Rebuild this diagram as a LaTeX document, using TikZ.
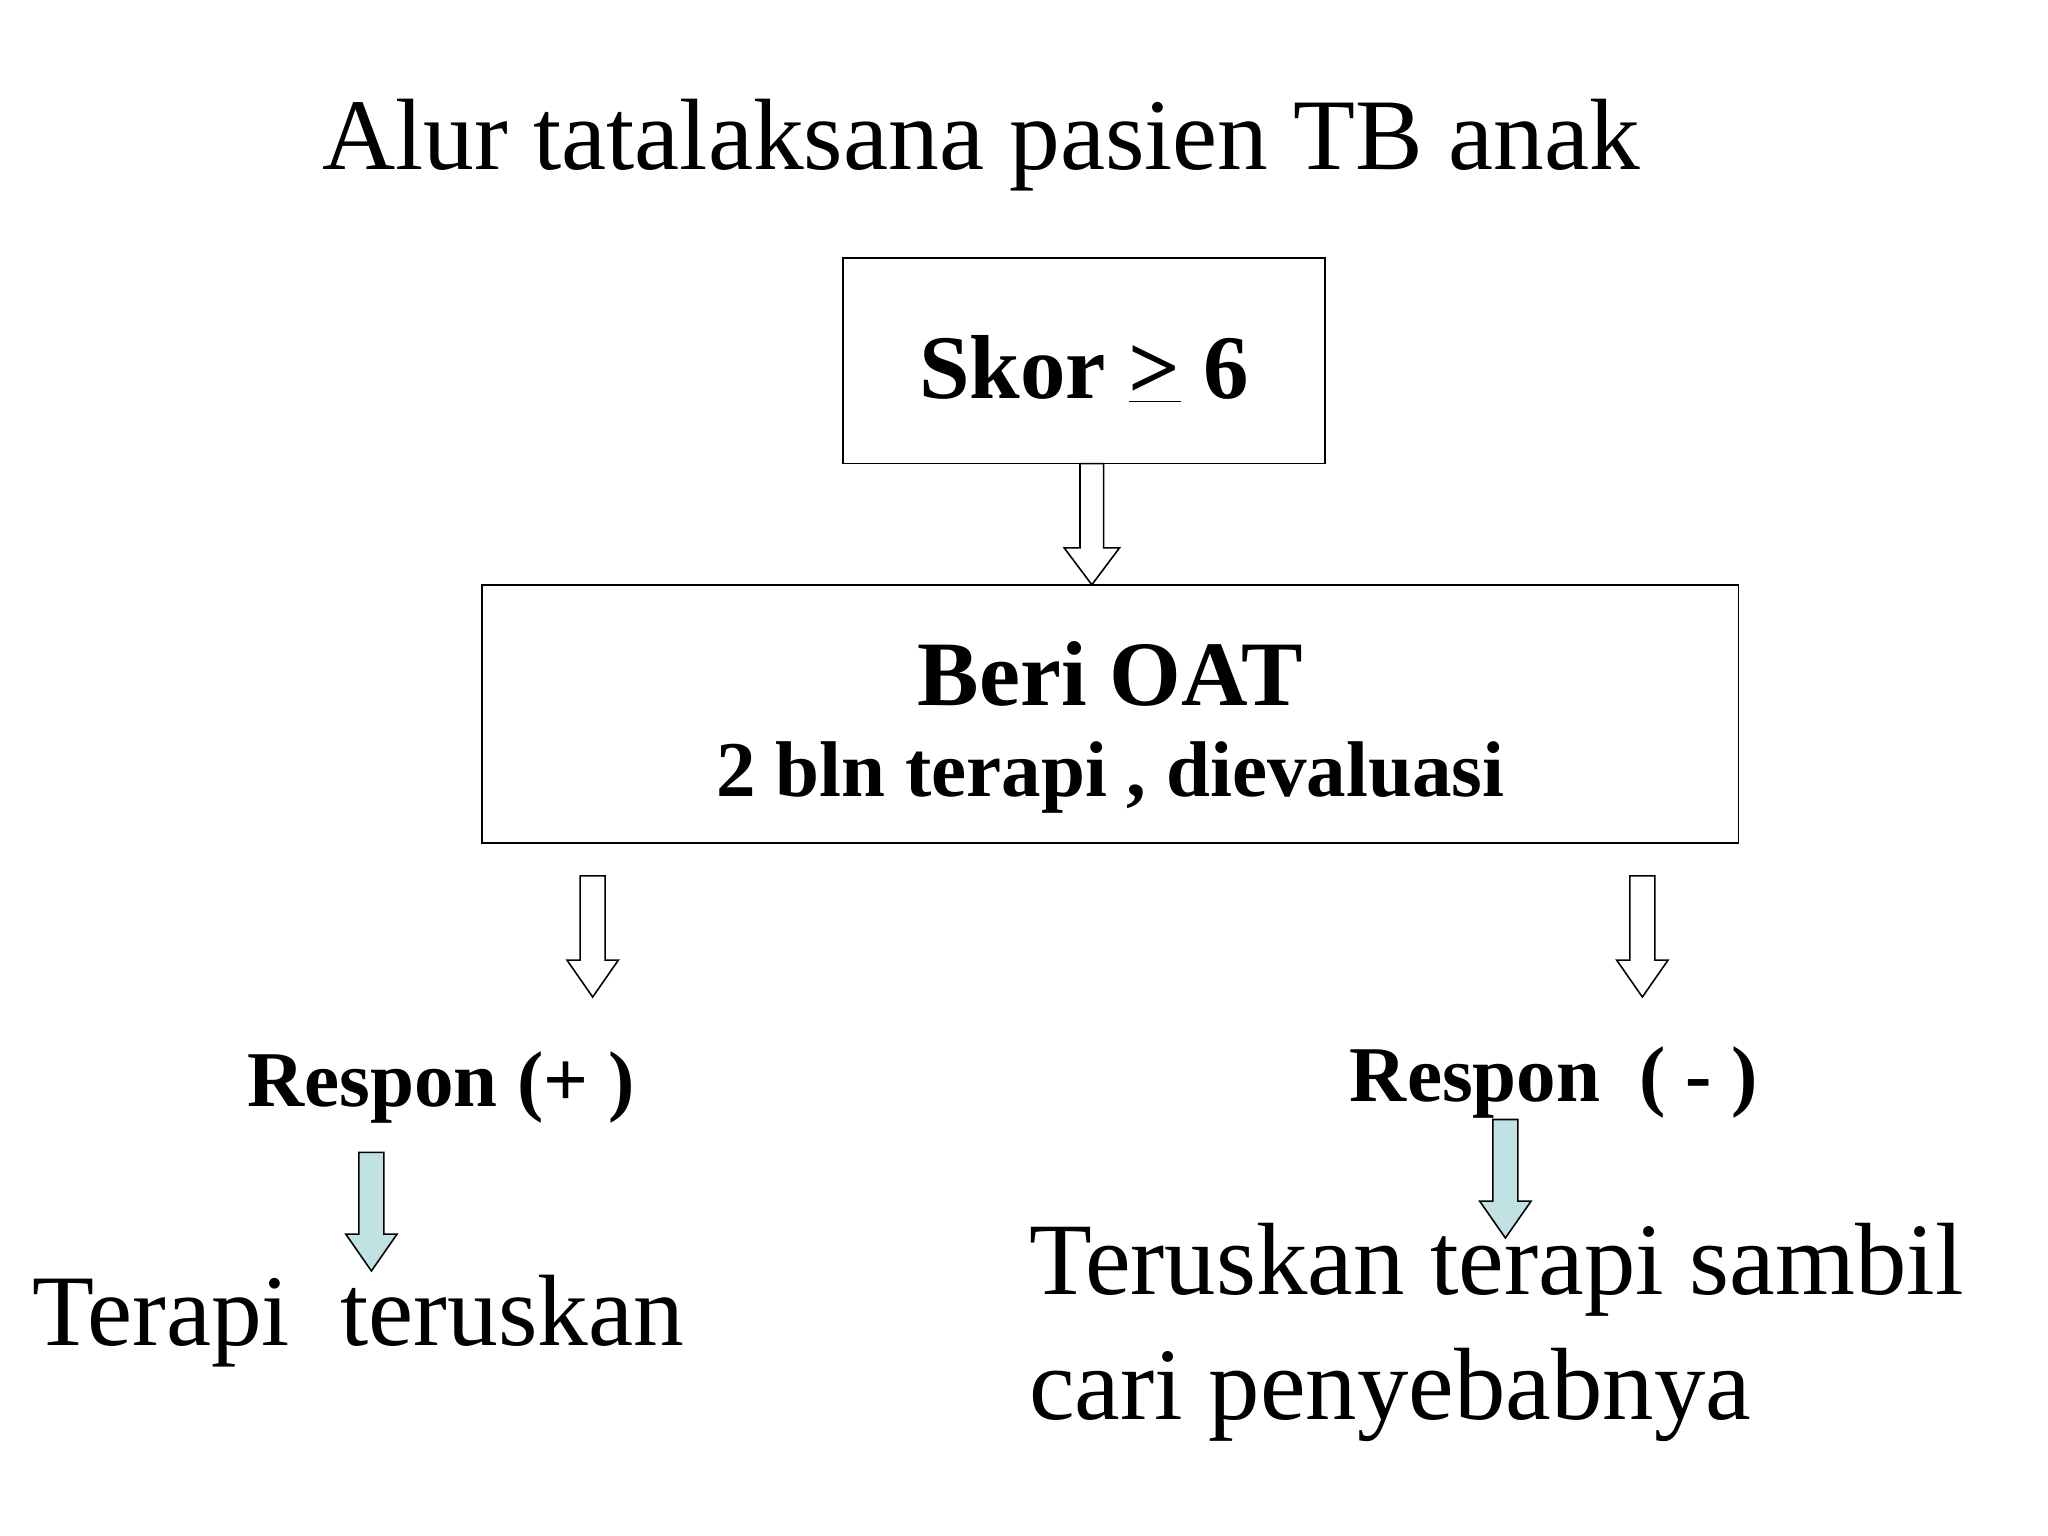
\documentclass[tikz,border=0pt]{standalone}
\usepackage{fontspec}
\setmainfont{Liberation Serif}
\definecolor{lcyan}{RGB}{192,226,226}
\tikzset{
  box/.style={draw, line width=1.2pt, inner sep=0pt},
  harrow/.style={draw, line width=1.2pt, fill=white},
  carrow/.style={draw, line width=1.2pt, fill=lcyan},
}
\newcommand{\arr}[6]{\draw[#1] (#2-#5,-#3) -- (#2+#5,-#3) -- (#2+#5,-#4+28) -- (#2+#6,-#4+28) -- (#2,-#4) -- (#2-#6,-#4+28) -- (#2-#5,-#4+28) -- cycle;}
\begin{document}
\begin{tikzpicture}[x=1pt,y=1pt]
\useasboundingbox[fill=white] (0,0) rectangle (1555,-1166);
\node (title) at (745,-110) {\fontsize{77}{90}\selectfont Alur tatalaksana pasien TB anak};
\node[box, minimum width=366pt, minimum height=156pt] (skor) at (823,-274) {};
\node at (823,-280) {\fontsize{69}{76}\selectfont\bfseries Skor \underline{>} 6};
\node[box, minimum width=954pt, minimum height=196pt] (oat) at (843,-542) {};
\node at (843,-512) {\fontsize{70}{78}\selectfont\bfseries Beri OAT};
\node at (843,-590) {\fontsize{60}{66}\selectfont\bfseries 2 bln terapi , dievaluasi};
\arr{harrow}{829}{352}{444}{9}{21}
\arr{harrow}{450}{665}{757}{9.5}{19.5}
\arr{harrow}{1247}{665}{757}{9.5}{19.5}
\node (rp) at (335,-826) {\fontsize{60}{66}\selectfont\bfseries Respon (+ )};
\node (rm) at (1180,-822) {\fontsize{60}{66}\selectfont\bfseries Respon\ \ ( - )};
\arr{carrow}{282}{875}{965}{9.5}{19.5}
\arr{carrow}{1143}{850}{940}{9.5}{19.5}
\node (t1) at (272,-1003) {\fontsize{77}{85}\selectfont Terapi\ \ teruskan};
\node[anchor=north west, align=left, font={\fontsize{78}{95}\selectfont}] (t2) at (778,-925) {Teruskan terapi sambil\\cari penyebabnya};
\end{tikzpicture}
\end{document}
